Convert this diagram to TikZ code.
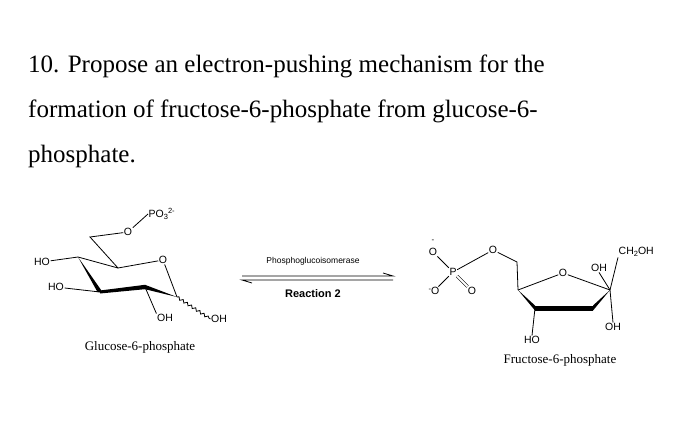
\documentclass[tikz,border=0pt]{standalone}
\usepackage{fontspec}
\usetikzlibrary{decorations.pathmorphing}
\setmainfont{Liberation Serif}
\newfontfamily\ar{Liberation Sans}
\begin{document}
\begin{tikzpicture}[x=1pt,y=-1pt,
  lbl/.style={font=\ar\fontsize{10.5}{12}\selectfont,inner sep=0.5pt},
  bd/.style={line width=0.8pt},
  title/.style={font=\fontsize{25}{30}\selectfont,anchor=base west,inner sep=0}]
\useasboundingbox (0,0) rectangle (700,447);
\node[title] (t1) at (28,72) {10. Propose an electron-pushing mechanism for the};
\node[title] (t2) at (28,117) {formation of fructose-6-phosphate from glucose-6-};
\node[title] (t3) at (28,162) {phosphate.};
% Glucose
\coordinate (c4) at (78,257); \coordinate (c5) at (118,268);
\coordinate (c6) at (90,237); \coordinate (c1) at (177,297);
\coordinate (c2) at (145,287); \coordinate (c3) at (100,292);
\node[lbl] (o5) at (163,260) {O};
\node[lbl] (o6) at (128,232) {O};
\node[lbl,anchor=west] (p) at (148,214) {PO\raisebox{-2pt}{\fontsize{7.5}{8}\selectfont 3}\raisebox{4pt}{\fontsize{7.5}{8}\selectfont 2-}};
\node[lbl] (ho4) at (42,262) {HO};
\node[lbl] (ho3) at (56,287) {HO};
\node[lbl] (oh2) at (165,318) {OH};
\node[lbl] (oh1) at (219,319) {OH};
\draw[bd] (ho4) -- (c4) -- (c5) -- (o5) -- (c1);
\draw[bd] (c5) -- (c6) -- (o6) -- (p.west);
\fill (c4) -- ([xshift=-2.5pt]c3) -- ([xshift=2.5pt]c3) -- cycle;
\fill ([yshift=-1.5pt]c3) -- ([yshift=-2.2pt]c2) -- ([yshift=2.2pt]c2) -- ([yshift=1.5pt]c3) -- cycle;
\fill ([yshift=-2.2pt]c2) -- (c1) -- ([yshift=2.2pt]c2) -- cycle;
\draw[bd] (ho3) -- (c3);
\draw[bd] (c2) -- (oh2.north west);
\draw[bd,decorate,decoration={snake,amplitude=1.3pt,segment length=5pt}] (c1) -- (oh1.west);
\node[font=\fontsize{13}{15}\selectfont] (gl) at (140,347) {Glucose-6-phosphate};
% arrows
\coordinate (a1) at (242,276); \coordinate (a2) at (393,276);
\coordinate (b1) at (242,280); \coordinate (b2) at (393,280);
\draw[bd] (a1) -- (a2) -- ++(-10,-3);
\draw[bd] (b2) -- (b1) -- ++(10,3);
\node[font=\ar\fontsize{8.5}{10}\selectfont] (en) at (313,261) {Phosphoglucoisomerase};
\node[font=\ar\bfseries\fontsize{11}{13}\selectfont] (r2) at (313,294) {Reaction 2};
% Fructose
\node[lbl] (om1) at (433,252) {O};
\node[lbl,font=\ar\fontsize{8}{9}\selectfont] at (433,241) {-};
\node[lbl] (pp) at (453,272) {P};
\node[lbl] (om2) at (434,291) {\raisebox{3pt}{\fontsize{7.5}{8}\selectfont -}O};
\node[lbl] (od) at (472,291) {O};
\node[lbl] (oe) at (493,250) {O};
\node[lbl] (or) at (563,273) {O};
\node[lbl] (hoa) at (532,340) {HO};
\node[lbl] (ohb) at (613,327) {OH};
\node[lbl] (ohc) at (599,268) {OH};
\node[lbl,anchor=west] (ch) at (618,252) {CH\raisebox{-2pt}{\fontsize{7.5}{8}\selectfont 2}OH};
\coordinate (f6) at (517,262); \coordinate (f5) at (518,290);
\coordinate (f4) at (535,308); \coordinate (f3) at (593,308);
\coordinate (f2) at (610,290);
\draw[bd] (om1) -- (pp) -- (om2); \draw[bd] (pp) -- (oe) -- (f6) -- (f5);
\draw[bd,double,double distance=1.8pt,line width=0.6pt] (pp) -- (od);
\draw[bd] (f5) -- (or) -- (f2);
\fill (f5) -- ([yshift=-2.5pt]f4) -- ([yshift=2.5pt]f4) -- cycle;
\fill ([yshift=-2.5pt]f4) -- ([yshift=-2.5pt]f3) -- ([yshift=2.5pt]f3) -- ([yshift=2.5pt]f4) -- cycle;
\fill ([yshift=-2.5pt]f3) -- (f2) -- ([yshift=2.5pt]f3) -- cycle;
\draw[bd] (f4) -- (hoa.north);
\draw[bd] (f2) -- (ohb.north);
\draw[bd] (f2) -- (ohc.south);
\draw[bd] (f2) -- (ch.south west);
\node[font=\fontsize{13}{15}\selectfont] (fr) at (560,360) {Fructose-6-phosphate};
\end{tikzpicture}
\end{document}
